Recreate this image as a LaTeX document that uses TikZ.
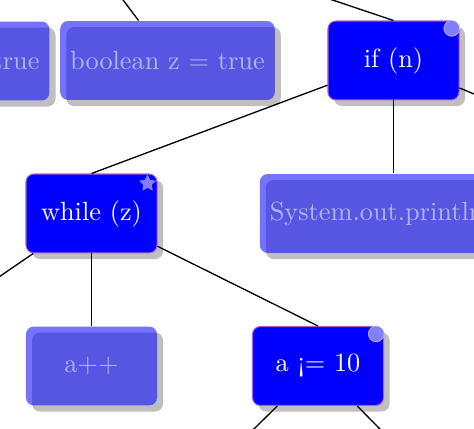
\documentclass[tikz,border=0pt]{standalone}
\usetikzlibrary{shadows, shapes.geometric}
\definecolor{rimcol}{RGB}{175,95,200}

\begin{document}
\begin{tikzpicture}[x=0.38pt, y=-0.38pt,
	box/.style={rounded corners=3pt, minimum width=49.8pt, minimum height=30pt, inner sep=3.8pt,
		drop shadow={shadow xshift=2.3pt, shadow yshift=-2.3pt, fill=black!25, opacity=1}},
	active/.style={box, fill=blue, draw=rimcol, text=white, line width=0.4pt},
	faded/.style={box, fill=blue, fill opacity=0.55, text=white, text opacity=0.55},
	cornerdot/.style={circle, fill=blue!50, draw=rimcol!40, line width=0.2pt, minimum size=6pt, inner sep=0pt},
	cornerstar/.style={star, star points=5, star point ratio=2, fill=blue!50, minimum size=6.8pt, inner sep=0pt},
	link/.style={line width=0.5pt}]
	\useasboundingbox (0,0) rectangle (474,429);
	\clip (0,0) rectangle (474,429);
	% upper row
	\node [faded, anchor=north east] (bn) at (50,21) {boolean n = true};
	\node [faded] (bz) at (167.5,60.5) {boolean z = true};
	\node [active] (ifn) at (393.5,60.5) {if (n)};
	\node [cornerdot] (ifdot) at ([shift={(-3pt,-3pt)}]ifn.north east) {};
	% middle row
	\node [active] (wz) at (91.5,213.5) {while (z)};
	\node [cornerstar] (wzstar) at ([shift={(-3.8pt,-3.8pt)}]wz.north east) {};
	\node [faded] (sys) at (393.5,213.5) {System.out.println(a)};
	% lower row
	\node [faded] (app) at (91.5,366) {a++};
	\node [active] (alt) at (318,366) {a ¡= 10};
	\node [cornerdot] (altdot) at ([shift={(-3pt,-3pt)}]alt.north east) {};
	% ends outside the frame
	\coordinate (bzup) at (108,-20);
	\coordinate (ifup) at (273,-20);
	\coordinate (ifright) at (666,174);
	\coordinate (wzleft) at (-74,327);
	\coordinate (altleft) at (202,480);
	\coordinate (altright) at (430,480);
	% links
	\draw [link] (bzup) -- ([xshift=-11pt]bz.north);
	\draw [link] (ifup) -- (ifn.north);
	\draw [link] (ifn) -- (wz.north);
	\draw [link] (ifn) -- (sys.north);
	\draw [link] (ifn) -- (ifright);
	\draw [link] (wz) -- (wzleft);
	\draw [link] (wz) -- (app.north);
	\draw [link] (wz) -- (alt.north);
	\draw [link] (alt) -- (altleft);
	\draw [link] (alt) -- (altright);
\end{tikzpicture}
\end{document}
